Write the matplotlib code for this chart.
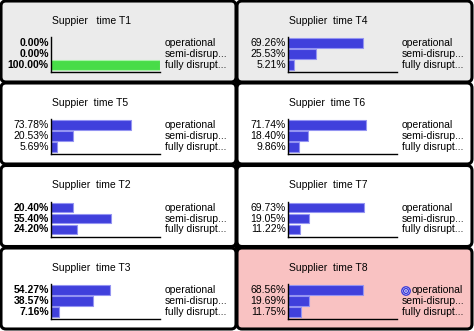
import matplotlib.pyplot as plt
from matplotlib.patches import FancyBboxPatch, Circle

plt.rcParams['font.family'] = ['Liberation Sans', 'DejaVu Sans']

# panels in reading order (row by row, left then right)
titles = ['Suppier   time T1', 'Supplier  time T4',
          'Suppier  time T5', 'Suppier  time T6',
          'Supplier  time T2', 'Supplier  time T7',
          'Supplier  time T3', 'Supplier  time T8']
states = ['operational', 'semi-disrup...', 'fully disrupt...']
t1 = [0.00, 0.00, 100.00]
t4 = [69.26, 25.53, 5.21]
t5 = [73.78, 20.53, 5.69]
t6 = [71.74, 18.40, 9.86]
t2 = [20.40, 55.40, 24.20]
t7 = [69.73, 19.05, 11.22]
t3 = [54.27, 38.57, 7.16]
t8 = [68.56, 19.69, 11.75]
probs = [t1, t4, t5, t6, t2, t7, t3, t8]
bold_vals = [True, False, False, False, True, False, True, False]
backs = ['#ebebeb', '#ebebeb', 'white', 'white', 'white', 'white', 'white', '#f9c2c2']

W, H = 474, 331
fig = plt.figure(figsize=(W / 100, H / 100), dpi=100)
bg = fig.add_axes([0, 0, 1, 1])
bg.set_xlim(0, W)
bg.set_ylim(H, 0)
bg.axis('off')

col_x = [1, 237]
row_y = [1, 83, 165.5, 248]
pw, ph = 235, 81

def to_fig(x, y, w, h):
    return [x / W, 1 - (y + h) / H, w / W, h / H]

for i, (title, vals) in enumerate(zip(titles, probs)):
    px = col_x[i % 2]
    py = row_y[i // 2]
    bg.add_patch(FancyBboxPatch((px, py), pw, ph,
                                boxstyle='round,pad=0,rounding_size=5',
                                facecolor=backs[i], edgecolor='black', lw=2.2))
    bx = px + 50 if i % 2 == 0 else px + 51
    bg.text(bx + 1, py + 20, title, fontsize=7.5, va='center', ha='left')

    ax = fig.add_axes(to_fig(bx, py + 36, 109, 35))
    ax.patch.set_alpha(0)
    ax.set_xlim(0, 100)
    ax.set_ylim(2.64, -0.55)
    if i == 0:
        fc, ec = '#48dc48', '#a8f2a8'
    else:
        fc, ec = '#4040dc', '#9494f2'
    ax.barh(range(3), vals, height=0.84, color=fc, edgecolor=ec, lw=0.8)
    for s in ['top', 'right']:
        ax.spines[s].set_visible(False)
    ax.spines['left'].set_linewidth(1)
    ax.spines['bottom'].set_linewidth(1)
    ax.set_xticks([])
    ax.set_yticks([])
    tr = ax.get_yaxis_transform()
    for j, v in enumerate(vals):
        ax.text(-0.02, j, f'{v:.2f}%', transform=tr, ha='right', va='center',
                fontsize=7.5, fontweight='bold' if bold_vals[i] else 'normal',
                clip_on=False)
        lx = 1.045
        if i == 7 and j == 0:
            lx = 1.13
        ax.text(lx, j, states[j], transform=tr, ha='left', va='center',
                fontsize=7.5, clip_on=False)

# dark joints where the panel corners meet
for jx in [237]:
    for jy in [82, 164.5, 247]:
        bg.add_patch(Circle((jx, jy), 2.6, facecolor='black', edgecolor='none', zorder=3))

# finding marker on the last panel
bg.add_patch(Circle((406, 291), 4.2, facecolor='white', edgecolor='#3a3ad8', lw=1))
bg.add_patch(Circle((406, 291), 2.4, facecolor='white', edgecolor='#3a3ad8', lw=1))
bg.add_patch(Circle((406, 291), 0.9, facecolor='#3a3ad8', edgecolor='none'))

fig.savefig('out.png', dpi=100)
